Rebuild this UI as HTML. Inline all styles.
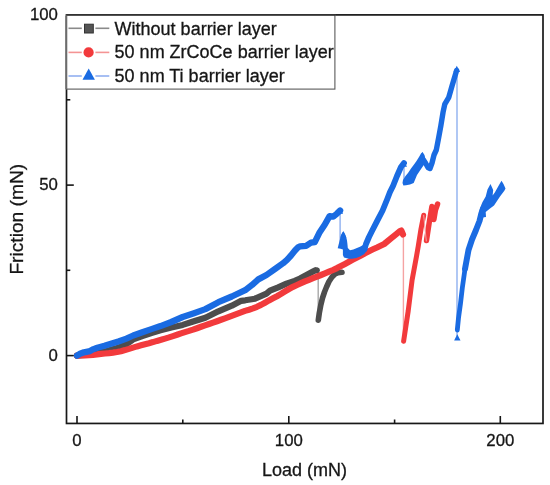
<!DOCTYPE html>
<html>
<head>
<meta charset="utf-8">
<style>
html,body{margin:0;padding:0;background:#fff;}
body{width:550px;height:485px;overflow:hidden;position:relative;}
svg{position:absolute;left:0;top:0;}
text{font-family:"Liberation Sans",Arial,sans-serif;fill:#161616;stroke:#161616;stroke-width:0.3px;}
</style>
</head>
<body>
<svg width="550" height="485" viewBox="0 0 550 485">

<g fill="none" stroke-width="1.4">
<line x1="318.2" y1="271" x2="318.2" y2="321" stroke="#a8a8a8"/>
<line x1="403.4" y1="235" x2="403.4" y2="341" stroke="#f5a3a3"/>
<line x1="340.1" y1="211" x2="340.1" y2="247" stroke="#8fb0f0"/>
<line x1="404" y1="163" x2="404" y2="183" stroke="#8fb0f0"/>
<line x1="457" y1="70" x2="457" y2="336" stroke="#8fb0f0"/>
</g>
<g fill="none" stroke-linejoin="round" stroke-linecap="round">
<polyline points="77,355.6 85,354.9 95,353.4 105,351.4 112,349.4 119,347.4 126,344.4 133.2,339.4 142.3,336.0 151.4,333.0 160.5,330.3 171.3,327.5 182.7,324.9 194,321.2 205.4,317.7 218.4,311.3 231.8,305.7 241.2,300.8 245.2,300.3 255,298.7 266.5,293.6 270,290.7 278.2,287.4 286.5,283.7 294.7,280.8 300,278.5 306.5,275.0 313,271.5 315.5,270.2 316.8,270.4" stroke="#4d4d4d" stroke-width="6.2"/>
<polyline points="318.3,320.2 319.3,313 320.8,305 322.5,298 324.5,292 326.5,287 329,281.5 332,277 335,274 338,272.6 342,272.3" stroke="#4d4d4d" stroke-width="5.6"/>
<polyline points="77,355.6 81,355.5 85,355.4 89,355.2 93,354.8 97,354.4 101,353.9 105,353.5 109,353.1 113,352.6 117,352 121,351.2 125,350.1 129,348.9 133,347.6 137,346.4 141,345.3 145,344.2 149,343.2 153,342.1 157,340.9 161,339.8 165,338.6 169,337.4 173,336.1 177,334.8 181,333.4 185,332.1 189,330.9 193,329.6 197,328.2 201,326.8 205,325.4 209,324 213,322.6 217,321.2 221,319.8 225,318.4 229,316.9 233,315.4 237,313.9 241,312.4 245,310.9 249,309.7 253,308.4 257,306.8 261,304.9 265,302.7 269,300.4 273,298.3 277,296.2 281,293.9 285,291.4 289,289 293,286.8 297,285 301,283.2 305,281.4 309,279.8 313,278.2 317,276.6 321,275 325,273.4 329,271.7 333,270 337,268.1 341,266 345,263.9 349,261.7 353,259.6 357,257.5 361,255.4 365,253.2 369,251.2 373,249.3 377,247.5 384.2,244 390.4,238.8 396.6,233.8 399.6,231.3 401.3,230.5 403,234.5" stroke="#f23a3c" stroke-width="6.2"/>
<polyline points="403.6,341.3 408.2,311 412.1,280 416.6,255.8 418.3,246 421,229 423.7,215.3" stroke="#f23a3c" stroke-width="5.0"/>
<polyline points="426.5,240.6 429.3,222 431.9,206.5 433.9,219.5 435.5,210 437.6,204" stroke="#f23a3c" stroke-width="5.4"/>
<polyline points="423.7,215.3 426.3,241" stroke="#f5a3a3" stroke-width="1"/>
<polyline points="77,355.6 80,353.8 84,352.3 90,351.1 93.6,349.1 97.3,347.7 104.5,345.8 111.8,343.5 119.1,341.3 126.4,338.6 133.2,335.5 142.3,332.3 151.4,329.1 160.5,326.1 171.3,322.0 182.7,317.0 194,313.2 205.4,309.1 218.4,302.2 231.8,296.5 245.2,290.2 251.9,285.1 258.3,279.4 266.5,275.0 274.8,269.2 283,263.3 287,259.8 291,255.5 295,250.5 298,247.3 300,246.4 306.1,245.8 311,242.7 314.8,242.1 319.7,232.2 324.7,224.8 329.6,216.1 333.3,216.7 337,213.6 340.1,210.5" stroke="#1a6be2" stroke-width="6.3"/>
<polygon points="343.5,231.3 345,234 346.2,237.1 347,240.5 347.4,243.8 347.8,248 350,250.3 353.3,249.6 356.3,248.2 360,246.8 364,244.5 366.5,242 367.5,250 364,254.2 360,256.4 356.3,257.9 352,258.7 348.8,258.7 344,257.5 342.9,255 342.9,249.5 340.5,248.8 337.7,248.2 338.5,245 339.6,240.8 341,234.9 342.3,232.5" fill="#1a6be2" stroke="none"/>
<polyline points="364.5,249 366,244 369,237 372,231 377.2,220.8 382.6,210.5 387.3,199 390,192 393,186 397,176 401,167 404,163" stroke="#1a6be2" stroke-width="5.9"/>
<polygon points="402.5,183 403,180 405.5,175.9 408,173 411,168.5 414,164.5 416.5,161 419,157 421,153.5 422.5,152 424.5,155 425.5,160 424.5,164 420,170.5 417,175 413.7,183.1 410,184.5 406,185.3 403.4,185.5" fill="#1a6be2" stroke="none"/>
<polyline points="423.5,160 425.5,163 428,167.5 430,168.5 432,163 434,155 436.3,150 438.6,138.1 440.9,125.6 443.1,112 444.8,104.1 448.8,97.3 452,86 456.6,70.5" stroke="#1a6be2" stroke-width="5.4"/>
<polyline points="457.3,330 458.5,318 460.5,303.5 462.3,288 465,269" stroke="#1a6be2" stroke-width="4.8"/>
<polyline points="465,269 468.5,250 472,239.5 476,230 479.5,221 481.5,213 483,209" stroke="#1a6be2" stroke-width="6.0"/>
<polygon points="478.6,215 480,208 482.4,202.3 485.7,196.5 487.5,189.5 490.5,184 493.2,189.9 492.6,195.5 494.8,192.4 499,184.9 501.5,180.8 503.5,184 505.5,188.4 504.5,190.5 500,196.5 494,205.6 490,208.5 485.7,212 486,217 479,218" fill="#1a6be2" stroke="none"/>
</g>
<g>
<polygon points="457.3,334.2 460.5,340.4 454.1,340.4" fill="#1a6be2"/>
<polygon points="456.8,65.8 460.1,72.0 453.5,72.0" fill="#1a6be2"/>
<polygon points="343.3,231.5 346.3,237.5 340.3,237.5" fill="#1a6be2"/>
<polygon points="404,160.8 407.0,166.8 401.0,166.8" fill="#1a6be2"/>
<polygon points="422.3,152.2 425.3,158.2 419.3,158.2" fill="#1a6be2"/>
<polygon points="340.1,207.8 343.1,213.8 337.1,213.8" fill="#1a6be2"/>
</g>

<rect x="66.5" y="14.9" width="476.5" height="408.55" fill="none" stroke="#181818" stroke-width="1.7"/>
<g stroke="#151515" stroke-width="1.6">
<line x1="77" y1="423.45" x2="77" y2="416"/>
<line x1="182.8" y1="423.45" x2="182.8" y2="419.5"/>
<line x1="288.8" y1="423.45" x2="288.8" y2="416"/>
<line x1="394.6" y1="423.45" x2="394.6" y2="419.5"/>
<line x1="500.3" y1="423.45" x2="500.3" y2="416"/>
<line x1="66.5" y1="355.6" x2="73.8" y2="355.6"/>
<line x1="66.5" y1="270.3" x2="70.3" y2="270.3"/>
<line x1="66.5" y1="185.1" x2="73.8" y2="185.1"/>
<line x1="66.5" y1="99.8" x2="70.3" y2="99.8"/>
</g>
<g font-size="16.8" text-anchor="middle">
<text x="77" y="445.6">0</text>
<text x="288.8" y="445.6">100</text>
<text x="500.3" y="445.6">200</text>
</g>
<g font-size="16.8" text-anchor="end">
<text x="57.9" y="360.6">0</text>
<text x="57.9" y="190.3">50</text>
<text x="57.9" y="19.9">100</text>
</g>
<text x="304.6" y="475.8" font-size="18" text-anchor="middle">Load (mN)</text>
<text transform="translate(23.2,219.2) rotate(-90)" font-size="19.2" text-anchor="middle">Friction (mN)</text>
<rect x="66.5" y="14.9" width="268.4" height="74.2" fill="#fff" stroke="#5a5a5a" stroke-width="1.1"/>
<line x1="66.5" y1="14.85" x2="335" y2="14.85" stroke="#333" stroke-width="1.7"/>
<line x1="66.3" y1="15.7" x2="66.3" y2="89.1" stroke="#6c6c6c" stroke-width="1.9"/>
<g stroke-width="1.6">
<line x1="68.5" y1="28.3" x2="81.8" y2="28.3" stroke="#8a8a8a"/>
<line x1="95.4" y1="28.3" x2="109.3" y2="28.3" stroke="#8a8a8a"/>
<line x1="68.5" y1="52.4" x2="81.8" y2="52.4" stroke="#f49494"/>
<line x1="95.4" y1="52.4" x2="109.3" y2="52.4" stroke="#f49494"/>
<line x1="68.5" y1="76" x2="81.8" y2="76" stroke="#92b0f0"/>
<line x1="95.4" y1="76" x2="109.3" y2="76" stroke="#92b0f0"/>
</g>
<rect x="84.5" y="24.2" width="8.8" height="8.8" fill="#555" stroke="#333" stroke-width="1"/>
<circle cx="88.6" cy="52.4" r="5.1" fill="#f23a3c"/>
<polygon points="88.7,68.4 94.9,79.7 82.5,79.7" fill="#1a6be2"/>
<g font-size="18">
<text transform="translate(114.6,34.7) scale(1,1.055)">Without barrier layer</text>
<text transform="translate(114.6,58.3) scale(1,1.055)">50 nm ZrCoCe barrier layer</text>
<text transform="translate(114.6,81.6) scale(1,1.055)">50 nm Ti barrier layer</text>
</g>
</svg>
</body>
</html>
